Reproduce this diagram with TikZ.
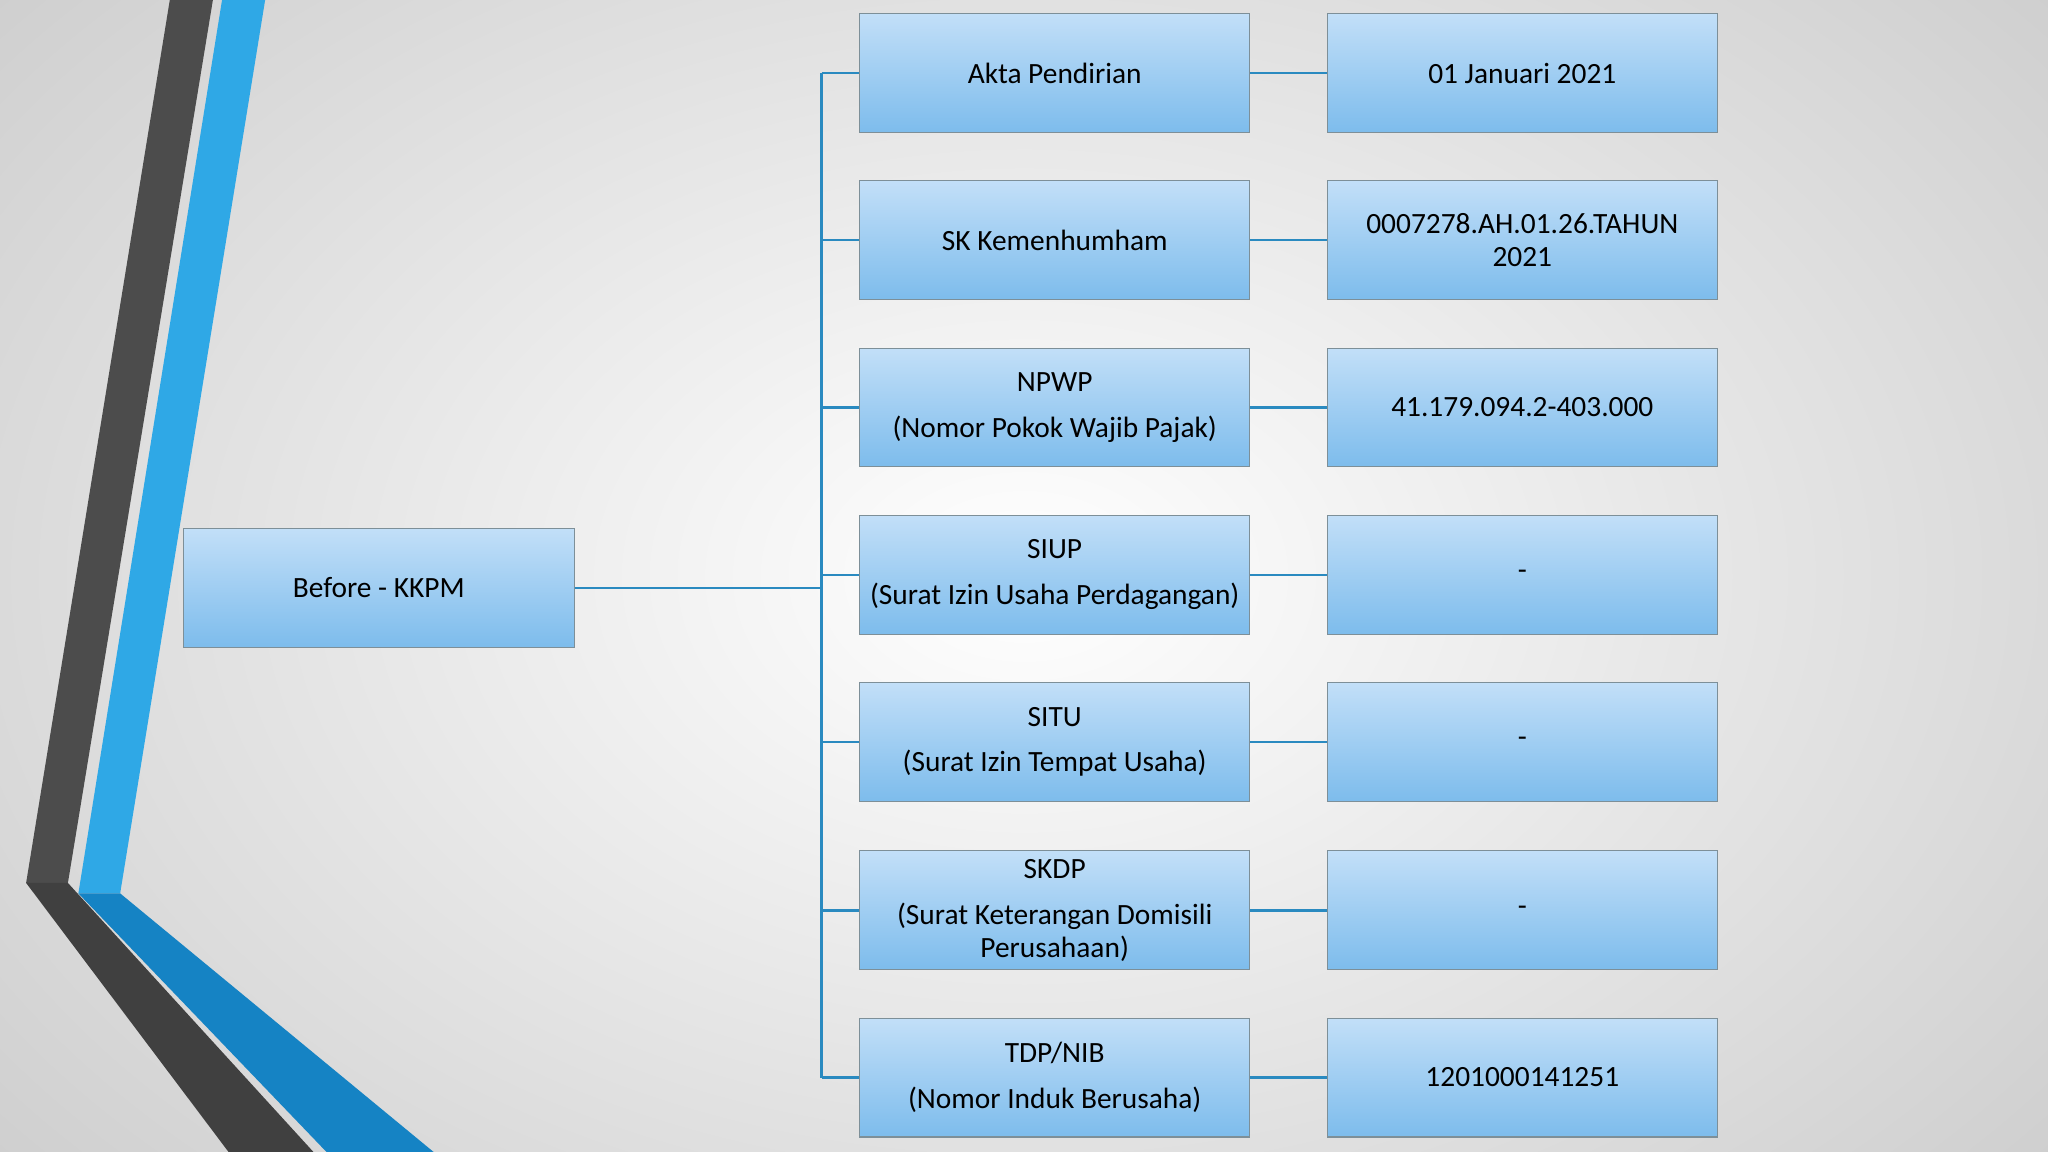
\documentclass[tikz,border=0pt]{standalone}
\usepackage{fontspec}
\setmainfont{Carlito}
\begin{document}
\begin{tikzpicture}[x=1pt,y=-1pt,
  bx/.style={draw=black!35!cyan!30!gray,line width=0.8pt,top color=topc,bottom color=botc,minimum width=299pt,minimum height=91pt,align=center,font=\fontsize{22.5}{25}\selectfont,inner sep=1pt},
  ln/.style={draw=linec,line width=1.8pt}]
\definecolor{topc}{HTML}{C2DFF8}
\definecolor{botc}{HTML}{7DBCEC}
\definecolor{linec}{HTML}{2A8AC0}
\definecolor{bluestripe}{HTML}{2FA8E6}
\definecolor{bluediag}{HTML}{1583C4}
\useasboundingbox (0,0) rectangle (1568,882);
\shade[inner color=white,outer color=gray!40] (-300,-300) rectangle (1868,1182);
\fill[gray!60!black] (130,0) -- (163,0) -- (52,676) -- (20,676) -- cycle;
\fill[black!75] (20,676) -- (52,676) -- (240,882) -- (175,882) -- cycle;
\fill[bluestripe] (170,0) -- (203,0) -- (92,684) -- (60,684) -- cycle;
\fill[bluediag] (60,684) -- (92,684) -- (332,882) -- (250,882) -- cycle;
\node[bx] (b) at (290,450) {Before - KKPM};
\coordinate (t1) at (629,56);
\coordinate (t7) at (629,825);
\coordinate (tm) at (629,450);
\draw[ln] (t1) -- (t7);
\draw[ln] (b.east) -- (tm);
\foreach \i/\y/\l/\r in {
 1/56/{Akta Pendirian}/{01 Januari 2021},
 2/184/{SK Kemenhumham}/{0007278.AH.01.26.TAHUN\\2021},
 3/312/{NPWP\\[10pt](Nomor Pokok Wajib Pajak)}/{41.179.094.2-403.000},
 4/440/{SIUP\\[10pt](Surat Izin Usaha Perdagangan)}/{-},
 5/568/{SITU\\[10pt](Surat Izin Tempat Usaha)}/{-},
 6/697/{SKDP\\[10pt](Surat Keterangan Domisili\\Perusahaan)}/{-},
 7/825/{TDP/NIB\\[10pt](Nomor Induk Berusaha)}/{1201000141251}}{
 \node[bx] (l\i) at (807.5,\y) {\l};
 \node[bx] (r\i) at (1165.5,\y) {\r};
 \coordinate (j\i) at (629,\y);
 \draw[ln] (j\i) -- (l\i.west);
 \draw[ln] (l\i.east) -- (r\i.west);
}
\end{tikzpicture}
\end{document}
